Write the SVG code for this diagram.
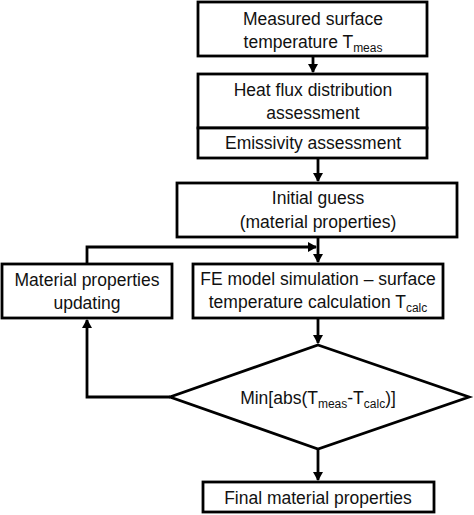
<svg xmlns="http://www.w3.org/2000/svg" width="474" height="515" viewBox="0 0 474 515">
<style>
.box{fill:#fff;stroke:#000;stroke-width:2.8}
.t{font-family:"Liberation Sans",Arial,sans-serif;font-size:17.5px;fill:#111;text-anchor:middle}
.s{font-size:12px}
.c{fill:none;stroke:#000;stroke-width:2.8}
</style>
<defs>
<marker id="ah" markerWidth="10" markerHeight="10" refX="8" refY="5" orient="auto" markerUnits="userSpaceOnUse">
<path d="M0,0 L9,5 L0,10 Z" fill="#000"/>
</marker>
</defs>
<rect width="474" height="515" fill="#fff"/>
<g id="connectors">
<line class="c" x1="313" y1="56" x2="313" y2="72" marker-end="url(#ah)"/>
<line class="c" x1="318" y1="158" x2="318" y2="181" marker-end="url(#ah)"/>
<line class="c" x1="318" y1="237" x2="318" y2="262" marker-end="url(#ah)"/>
<polyline class="c" points="87,264 87,247 316,247" marker-end="url(#ah)"/>
<line class="c" x1="318" y1="318" x2="318" y2="343" marker-end="url(#ah)"/>
<polyline class="c" points="170,397 87,397 87,320" marker-end="url(#ah)"/>
<line class="c" x1="318" y1="449" x2="318" y2="480" marker-end="url(#ah)"/>
</g>
<g id="n1">
<rect class="box" x="198" y="2" width="229" height="54"/>
<text class="t" x="313" y="25">Measured surface</text>
<text class="t" x="313" y="48">temperature T<tspan class="s" dy="4">meas</tspan></text>
</g>
<g id="n2">
<rect class="box" x="198" y="74" width="229" height="54"/>
<text class="t" x="313" y="96">Heat flux distribution</text>
<text class="t" x="313" y="119">assessment</text>
</g>
<g id="n3">
<rect class="box" x="198" y="128" width="229" height="30"/>
<text class="t" x="313" y="149">Emissivity assessment</text>
</g>
<g id="n4">
<rect class="box" x="177" y="183" width="280" height="54"/>
<text class="t" x="318" y="204">Initial guess</text>
<text class="t" x="318" y="228">(material properties)</text>
</g>
<g id="n5">
<rect class="box" x="193" y="264" width="250" height="54"/>
<text class="t" x="318" y="285">FE model simulation – surface</text>
<text class="t" x="318" y="308">temperature calculation T<tspan class="s" dy="4">calc</tspan></text>
</g>
<g id="n6">
<rect class="box" x="2" y="264" width="170" height="54"/>
<text class="t" x="87" y="286">Material properties</text>
<text class="t" x="87" y="309">updating</text>
</g>
<g id="n7">
<polygon class="box" points="318,345 469,397 318,449 170,397"/>
<text class="t" x="318" y="404">Min[abs(T<tspan class="s" dy="4">meas</tspan><tspan dy="-4">-T</tspan><tspan class="s" dy="4">calc</tspan><tspan dy="-4">)]</tspan></text>
</g>
<g id="n8">
<rect class="box" x="203" y="482" width="231" height="30"/>
<text class="t" x="318" y="504">Final material properties</text>
</g>
</svg>
